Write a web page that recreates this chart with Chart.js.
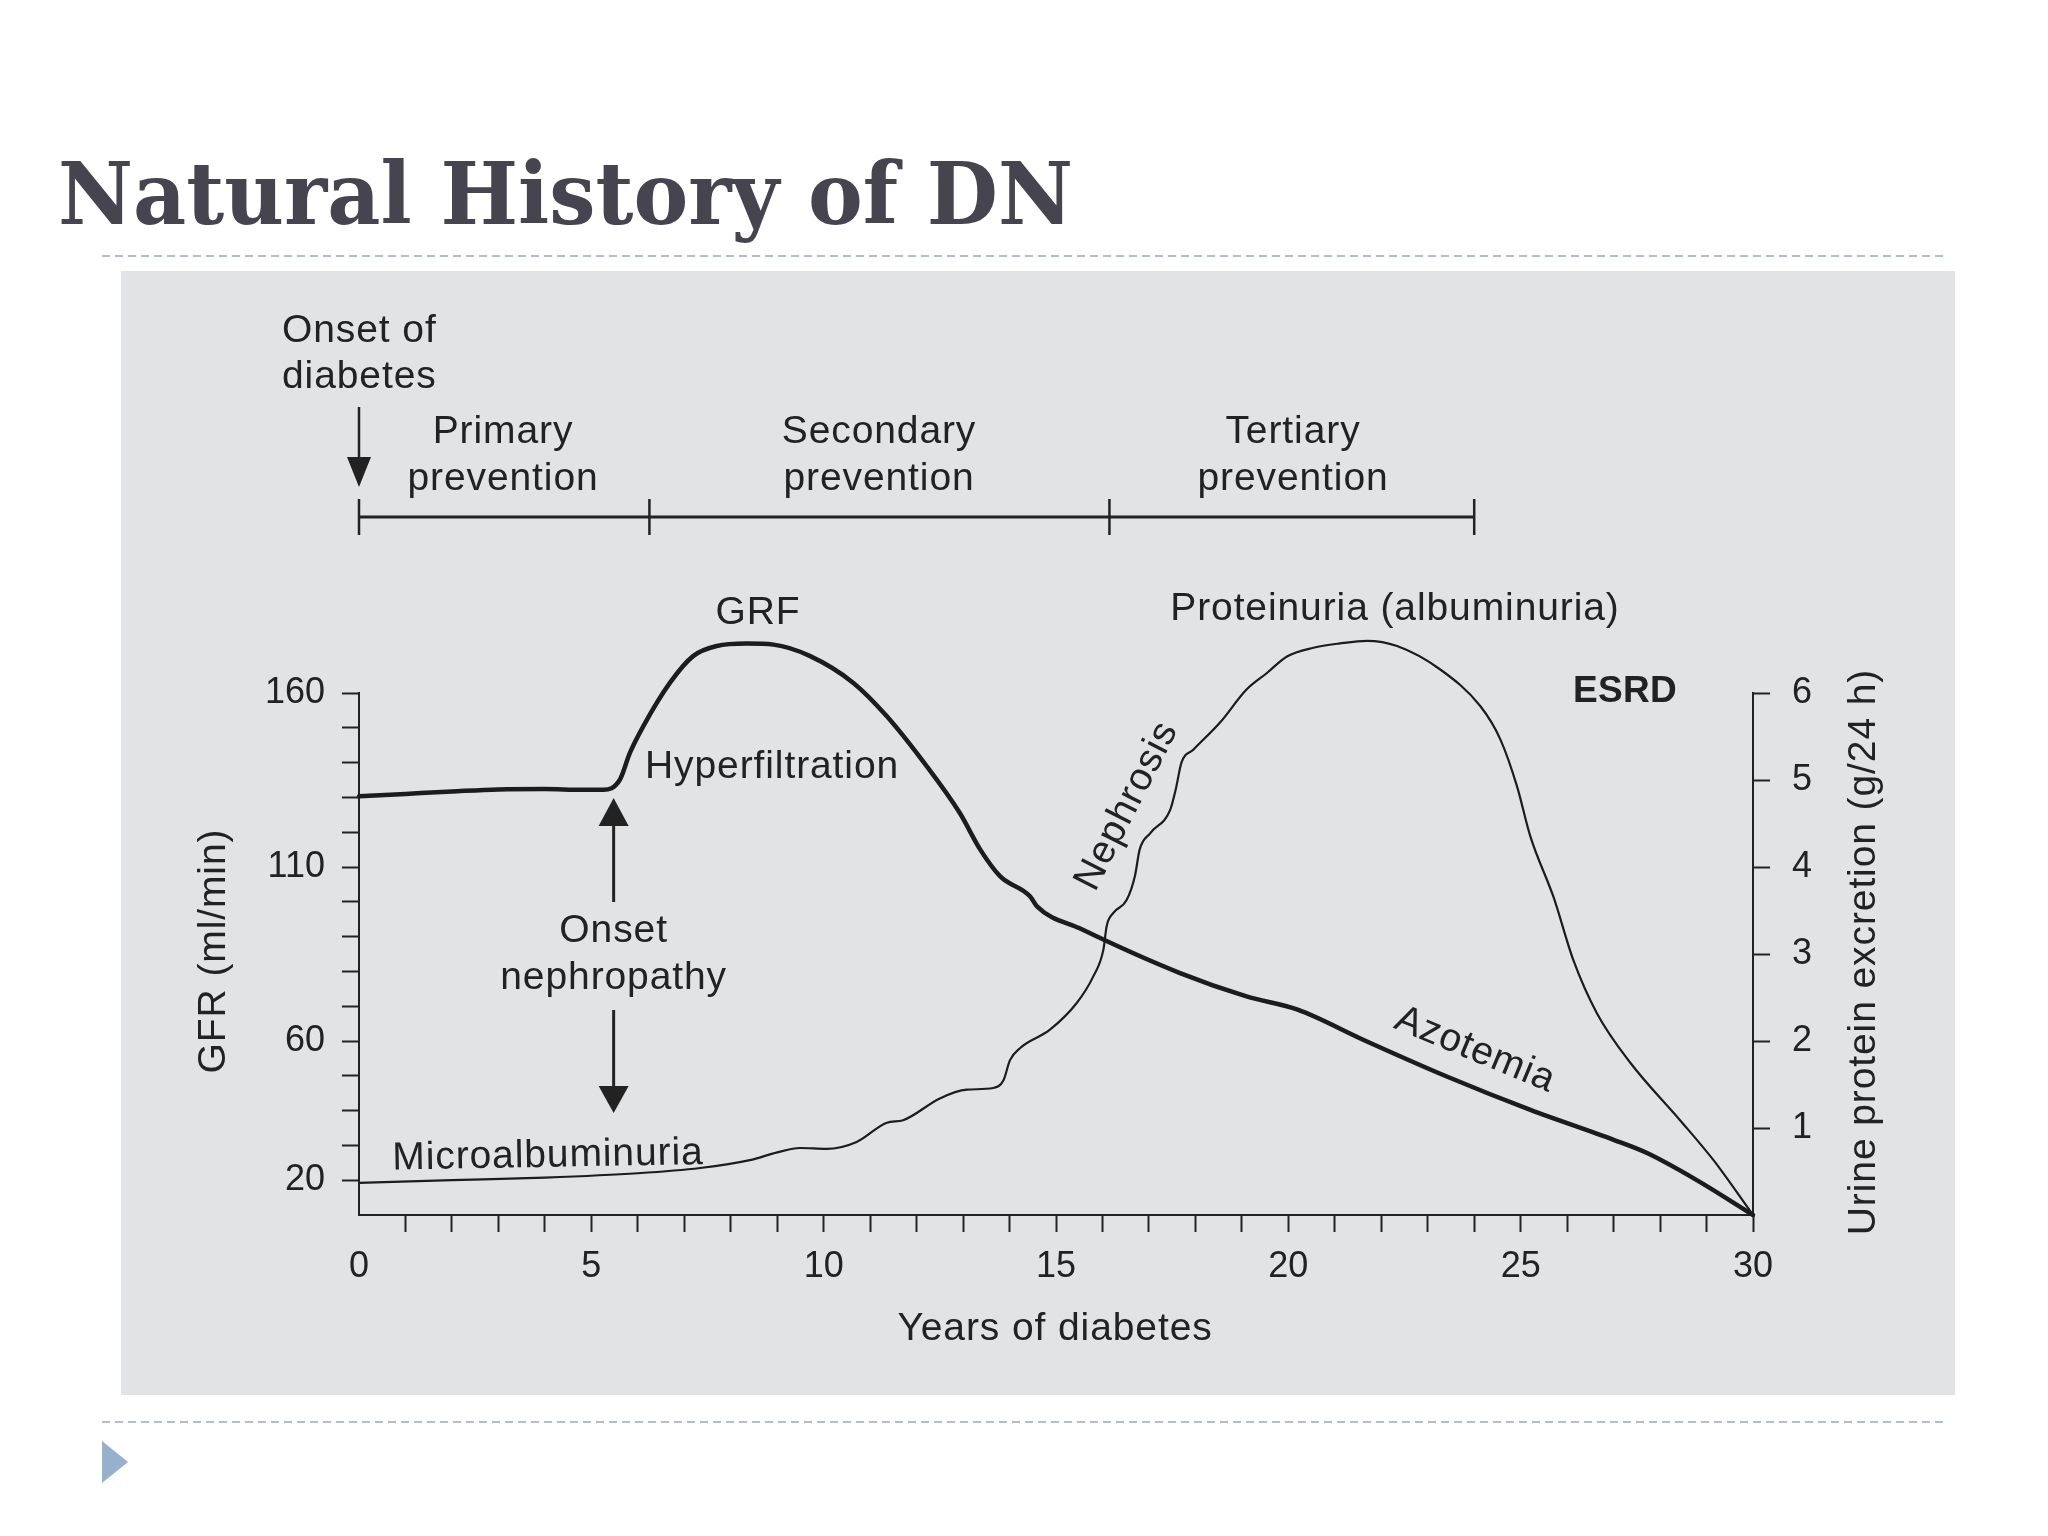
<!DOCTYPE html>
<html>
<head>
<meta charset="utf-8">
<script src="https://cdn.jsdelivr.net/npm/chart.js@4.4.1/dist/chart.umd.min.js"></script>
<style>
html,body{margin:0;padding:0;background:#fff;overflow:hidden}
canvas{display:block}
</style>
</head>
<body>
<canvas id="c" width="2048" height="1536" style="width:2048px;height:1536px"></canvas>
<script>
// ---------------- DATA ----------------
const gfrYears = [0, 1, 2, 3, 4, 4.8, 5.26, 5.61, 5.83, 6.12, 6.69, 7.19, 7.7, 8.34, 8.92, 9.71, 10.64, 11.36, 12.22, 12.93, 13.37, 13.8, 14.44, 14.59, 15.52, 17.67, 19.1, 20.2, 21.62, 23.41, 25.21, 27.0, 27.72, 28.78, 30];
const gfrValues = [130.3, 131.0, 131.7, 132.3, 132.4, 132.2, 132.2, 135.0, 142.8, 150.5, 162.9, 170.6, 173.5, 174.2, 173.9, 170.6, 162.9, 153.3, 138.9, 125.5, 115.0, 107.3, 101.6, 98.7, 92.3, 79.5, 72.8, 69.0, 60.3, 49.8, 40.2, 31.6, 27.8, 20.1, 10];

const proteinYears = [0, 2, 4, 6, 7.34, 8.41, 9.0, 9.49, 10.06, 10.71, 11.36, 11.71, 12.5, 13.08, 13.65, 13.87, 14.01, 14.23, 14.87, 15.45, 15.8, 16.02, 16.09, 16.23, 16.52, 16.7, 16.8, 17.03, 17.46, 17.58, 17.7, 17.96, 18.53, 19.1, 19.54, 19.97, 20.54, 21.11, 21.69, 22.34, 23.27, 24.13, 24.56, 24.92, 25.21, 25.71, 26.14, 26.64, 27.36, 28.43, 29.15, 30];
const proteinValues = [0.37, 0.40, 0.43, 0.48, 0.54, 0.63, 0.72, 0.77, 0.76, 0.84, 1.06, 1.09, 1.34, 1.44, 1.46, 1.55, 1.78, 1.92, 2.13, 2.44, 2.74, 3.05, 3.32, 3.47, 3.62, 3.9, 4.2, 4.39, 4.66, 4.9, 5.2, 5.35, 5.66, 6.04, 6.23, 6.42, 6.52, 6.57, 6.60, 6.54, 6.27, 5.85, 5.47, 4.93, 4.35, 3.65, 2.92, 2.32, 1.75, 1.09, 0.63, 0];

const xTickLabels = [0, 5, 10, 15, 20, 25, 30];
const gfrTickLabels = [160, 110, 60, 20];
const proteinTickLabels = [1, 2, 3, 4, 5, 6];
const preventionBounds = [0, 6.25, 16.15, 24];
const preventionPhases = [["Primary", "prevention"], ["Secondary", "prevention"], ["Tertiary", "prevention"]];
const onsetNephropathyYear = 5.48;

// ---------------- STYLE ----------------
const FONT = '"Liberation Sans", Arial, Helvetica, sans-serif';
const INK = '#222222';

function drawText(ctx, s, x, y, o) {
  o = o || {};
  ctx.save();
  ctx.font = (o.weight || 'normal') + ' ' + (o.size || 39) + 'px ' + FONT;
  ctx.fillStyle = o.color || INK;
  ctx.textAlign = o.align || 'left';
  ctx.textBaseline = o.baseline || 'alphabetic';
  if ('letterSpacing' in ctx) ctx.letterSpacing = (o.spacing !== undefined ? o.spacing : 0.9) + 'px';
  ctx.translate(x, y);
  if (o.rot) ctx.rotate(o.rot * Math.PI / 180);
  ctx.fillText(s, 0, 0);
  ctx.restore();
}
function arrowHead(ctx, x, tipY, baseY, half) {
  ctx.beginPath();
  ctx.moveTo(x, tipY);
  ctx.lineTo(x - half, baseY);
  ctx.lineTo(x + half, baseY);
  ctx.closePath();
  ctx.fill();
}
function vline(ctx, x, y1, y2, w) {
  ctx.lineWidth = w;
  ctx.beginPath();
  ctx.moveTo(x, y1);
  ctx.lineTo(x, y2);
  ctx.stroke();
}

const backgroundPlugin = {
  id: 'slideBackground',
  beforeDraw(chart) {
    const ctx = chart.ctx;
    ctx.save();
    ctx.fillStyle = '#ffffff';
    ctx.fillRect(0, 0, 2048, 1536);
    ctx.fillStyle = '#e2e3e5';
    ctx.fillRect(121, 271, 1834, 1124);
    // dashed rules
    ctx.strokeStyle = '#b4bec9';
    ctx.lineWidth = 2;
    ctx.setLineDash([8, 5]);
    [256, 1422].forEach(y => {
      ctx.beginPath();
      ctx.moveTo(102, y);
      ctx.lineTo(1946, y);
      ctx.stroke();
    });
    ctx.setLineDash([]);
    // bullet triangle
    ctx.fillStyle = '#99b0cc';
    ctx.beginPath();
    ctx.moveTo(102, 1441);
    ctx.lineTo(128, 1462);
    ctx.lineTo(102, 1483);
    ctx.closePath();
    ctx.fill();
    // title
    ctx.font = 'bold 86px "DejaVu Serif", "Liberation Serif", serif';
    ctx.fillStyle = '#45444f';
    ctx.textBaseline = 'alphabetic';
    const t = 'Natural History of DN';
    const w = ctx.measureText(t).width;
    ctx.translate(58, 224);
    ctx.scale(1015 / w, 1);
    ctx.fillText(t, 0, 0);
    ctx.restore();
  }
};

const annotationPlugin = {
  id: 'annotations',
  afterDraw(chart) {
    const ctx = chart.ctx;
    const xs = chart.scales.x;
    ctx.save();
    ctx.strokeStyle = INK;
    ctx.fillStyle = INK;

    // Onset of diabetes
    drawText(ctx, 'Onset of', 282, 342);
    drawText(ctx, 'diabetes', 282, 388);
    const x0 = xs.getPixelForValue(0);
    vline(ctx, x0, 407, 462, 2.5);
    arrowHead(ctx, x0, 487, 457, 12);

    // prevention timeline
    const tlY = 517;
    const bx = preventionBounds.map(v => xs.getPixelForValue(v));
    ctx.lineWidth = 3;
    ctx.beginPath();
    ctx.moveTo(bx[0], tlY);
    ctx.lineTo(bx[bx.length - 1], tlY);
    ctx.stroke();
    bx.forEach(x => vline(ctx, x, 499, 535, 2.5));
    const centers = [503, 879, 1293];
    preventionPhases.forEach((p, i) => {
      drawText(ctx, p[0], centers[i], 443, {align: 'center'});
      drawText(ctx, p[1], centers[i], 490, {align: 'center'});
    });

    // curve labels
    drawText(ctx, 'GRF', 758, 624, {align: 'center'});
    drawText(ctx, 'Proteinuria (albuminuria)', 1395, 620, {align: 'center'});
    drawText(ctx, 'ESRD', 1573, 702, {weight: 'bold', size: 37, spacing: 0.3});
    drawText(ctx, 'Hyperfiltration', 645, 778);

    // onset nephropathy
    const xn = xs.getPixelForValue(onsetNephropathyYear);
    arrowHead(ctx, xn, 798, 826, 15);
    vline(ctx, xn, 824, 902, 3);
    drawText(ctx, 'Onset', xn, 942, {align: 'center'});
    drawText(ctx, 'nephropathy', xn, 989, {align: 'center'});
    vline(ctx, xn, 1010, 1089, 3);
    arrowHead(ctx, xn, 1113, 1086, 15);

    drawText(ctx, 'Microalbuminuria', 548, 1156, {align: 'center', baseline: 'middle', rot: -1});
    drawText(ctx, 'Nephrosis', 1127, 806, {align: 'center', baseline: 'middle', rot: -63});
    drawText(ctx, 'Azotemia', 1475, 1050, {align: 'center', baseline: 'middle', rot: 22.5});

    // axis titles
    drawText(ctx, 'GFR (ml/min)', 214, 951, {align: 'center', baseline: 'middle', rot: -90});
    drawText(ctx, 'Urine protein excretion (g/24 h)', 1864, 952, {align: 'center', baseline: 'middle', rot: -90});
    drawText(ctx, 'Years of diabetes', 1055, 1340, {align: 'center'});
    ctx.restore();
  }
};

const tickFont = {family: FONT, size: 36};
const gridCommon = {
  drawOnChartArea: false,
  drawTicks: true,
  tickLength: 17,
  tickWidth: 2
};

new Chart(document.getElementById('c').getContext('2d'), {
  type: 'line',
  data: {
    datasets: [
      {
        label: 'GFR',
        data: gfrYears.map((x, i) => ({x: x, y: gfrValues[i]})),
        yAxisID: 'y',
        borderColor: '#1c1c1c',
        borderWidth: 4.5,
        pointRadius: 0,
        fill: false,
        cubicInterpolationMode: 'monotone',
        borderCapStyle: 'round',
        borderJoinStyle: 'round',
        clip: false
      },
      {
        label: 'Proteinuria',
        data: proteinYears.map((x, i) => ({x: x, y: proteinValues[i]})),
        yAxisID: 'y2',
        borderColor: '#1c1c1c',
        borderWidth: 2.2,
        pointRadius: 0,
        fill: false,
        cubicInterpolationMode: 'monotone',
        borderJoinStyle: 'round',
        clip: false
      }
    ]
  },
  options: {
    responsive: false,
    animation: false,
    devicePixelRatio: 1,
    layout: {padding: {left: 259, right: 195, top: 693, bottom: 221}},
    plugins: {legend: {display: false}, tooltip: {enabled: false}, title: {display: false}},
    scales: {
      x: {
        type: 'linear', min: 0, max: 30, position: 'bottom',
        afterBuildTicks(s) { const t = []; for (let v = 0; v <= 30; v++) t.push({value: v}); s.ticks = t; },
        afterFit(s) { s.height = 100; },
        ticks: {autoSkip: false, maxRotation: 0, padding: 13, color: INK, font: tickFont,
          callback: v => xTickLabels.includes(v) ? String(v) : ''},
        grid: Object.assign({}, gridCommon, {tickColor: c => (c.tick && c.tick.value === 0) ? 'rgba(0,0,0,0)' : INK}),
        border: {display: true, color: INK, width: 2}
      },
      y: {
        type: 'linear', min: 10, max: 160, position: 'left',
        afterBuildTicks(s) { const t = []; for (let v = 20; v <= 160; v += 10) t.push({value: v}); s.ticks = t; },
        afterFit(s) { s.width = 100; },
        ticks: {autoSkip: false, padding: 17, color: INK, font: tickFont,
          callback: v => gfrTickLabels.includes(v) ? String(v) : ''},
        grid: Object.assign({}, gridCommon, {tickColor: INK}),
        border: {display: true, color: INK, width: 2}
      },
      y2: {
        type: 'linear', min: 0, max: 6, position: 'right',
        afterBuildTicks(s) { s.ticks = proteinTickLabels.map(v => ({value: v})); },
        afterFit(s) { s.width = 100; },
        ticks: {autoSkip: false, padding: 22, color: INK, font: tickFont,
          callback: v => String(v)},
        grid: Object.assign({}, gridCommon, {tickColor: INK}),
        border: {display: true, color: INK, width: 2}
      }
    }
  },
  plugins: [backgroundPlugin, annotationPlugin]
});
</script>
</body>
</html>
